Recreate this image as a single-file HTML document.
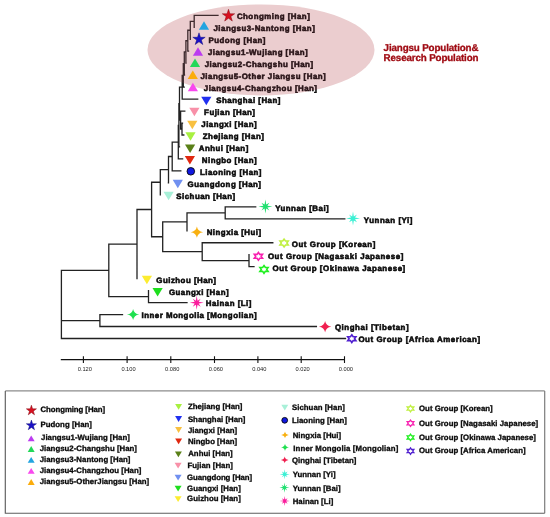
<!DOCTYPE html>
<html><head><meta charset="utf-8"><title>Phylogenetic tree</title>
<style>html,body{margin:0;padding:0;background:#fff;width:550px;height:517px;overflow:hidden}svg{display:block;filter:blur(0.3px)}</style>
</head><body>
<svg width="550" height="517" viewBox="0 0 550 517">
<rect width="550" height="517" fill="#fff"/>
<ellipse cx="261" cy="49.9" rx="113.5" ry="45.5" fill="rgb(232,203,204)"/>
<path d="M194.2 15.3V27.27M194.2 15.3H218M190.3 21.29V39.24M190.3 21.29H194.2M187.8 30.26V51.21M187.8 30.26H190.3M187.8 51.21H188.5M185.9 40.74V63.18M185.9 40.74H187.8M185.9 63.18H186M184.3 51.96V75.15M184.3 51.96H185.9M184.3 75.15H184.5M183.3 63.55V87.12M183.3 63.55H184.3M183.3 87.12H184.2M182.2 75.34V99.09M182.2 75.34H183.3M182.2 99.09H197.7M182 123.03V135M182 123.03H182.5M182 135H183.8M180.6 111.06V129.01M180.6 111.06H184.8M180.6 129.01H182M179.5 87.21V120.04M179.5 87.21H182.2M179.5 120.04H180.6M178.9 103.63V146.97M178.9 103.63H179.5M178.9 146.97H179.5M178.3 125.3V158.94M178.3 125.3H178.9M178.3 158.94H182.6M172.2 142.12V170.91M172.2 142.12H178.3M172.2 170.91H180.8M168.5 156.51V182.88M168.5 156.51H172.2M168.5 182.88H168.4M160.3 169.7V194.85M160.3 169.7H168.5M225.2 206.82V218.79M225.2 206.82H255.7M225.2 218.79H344.8M187 212.81V230.76M187 212.81H225.2M249 254.7V266.67M249 266.67H254M202.2 242.73V260.69M202.2 242.73H272.8M202.2 260.69H249M162.7 221.78V251.71M162.7 221.78H187M162.7 251.71H202.2M151.6 182.27V236.75M151.6 182.27H160.3M151.6 236.75H162.7M137 209.51V278.64M137 209.51H151.6M148.5 290.61V302.58M148.5 302.58H187M108.8 244.07V296.6M108.8 244.07H137M108.8 296.6H148.5M99.9 314.55V326.52M99.9 314.55H122.5M99.9 326.52H316.4M61.4 270.33V338.49M61.4 270.33H108.8M61.4 320.54H99.9M61.4 338.49H345.5" stroke="#222" stroke-width="1.3" fill="none" stroke-linecap="square"/>
<g font-family="Liberation Sans, Arial, sans-serif" font-weight="bold" font-size="7.9" letter-spacing="0.48" text-rendering="geometricPrecision" fill="#0a0a0a" stroke="#0a0a0a" stroke-width="0.55">
<text x="236.9" y="19.2">Chongming [Han]</text>
<text x="213.5" y="31.17">Jiangsu3-Nantong [Han]</text>
<text x="208.5" y="43.14">Pudong [Han]</text>
<text x="207.9" y="55.11">Jiangsu1-Wujiang [Han]</text>
<text x="204.7" y="67.08">Jiangsu2-Changshu [Han]</text>
<text x="200.5" y="79.05">Jiangsu5-Other Jiangsu [Han]</text>
<text x="203.8" y="91.02">Jiangsu4-Changzhou [Han]</text>
<text x="216.3" y="102.99">Shanghai [Han]</text>
<text x="204.1" y="114.96">Fujian [Han]</text>
<text x="201.3" y="126.93">Jiangxi [Han]</text>
<text x="202.8" y="138.9">Zhejiang [Han]</text>
<text x="198.8" y="150.87">Anhui [Han]</text>
<text x="201.8" y="162.84">Ningbo [Han]</text>
<text x="200" y="174.81">Liaoning [Han]</text>
<text x="187.6" y="186.78">Guangdong [Han]</text>
<text x="176.3" y="198.75">Sichuan [Han]</text>
<text x="275.2" y="210.72">Yunnan [Bai]</text>
<text x="363.8" y="222.69" letter-spacing="0.56">Yunnan [Yi]</text>
<text x="206.7" y="234.66">Ningxia [Hui]</text>
<text x="291.7" y="246.63" letter-spacing="0.56">Out Group [Korean]</text>
<text x="267.9" y="258.6" letter-spacing="0.56">Out Group [Nagasaki Japanese]</text>
<text x="272.6" y="270.57" letter-spacing="0.56">Out Group [Okinawa Japanese]</text>
<text x="156.3" y="282.54">Guizhou [Han]</text>
<text x="168.9" y="294.51">Guangxi [Han]</text>
<text x="205.8" y="306.48">Hainan [Li]</text>
<text x="141.6" y="318.45">Inner Mongolia [Mongolian]</text>
<text x="334.9" y="330.42" letter-spacing="0.56">Qinghai [Tibetan]</text>
<text x="358.4" y="342.39" letter-spacing="0.56">Out Group [Africa American]</text>
</g>
<ellipse cx="261" cy="49.9" rx="113.5" ry="45.5" fill="rgb(32,10,14)" style="mix-blend-mode:screen"/>
<polygon points="228.5,9.3 229.96,13.79 234.68,13.79 230.86,16.57 232.32,21.06 228.5,18.28 224.68,21.06 226.14,16.57 222.32,13.79 227.04,13.79" fill="#d81020" stroke="#7a0008" stroke-width="0.45" stroke-linejoin="miter"/>
<polygon points="204,21.15 198.9,29.65 209.1,29.65" fill="#22a4e0"/>
<polygon points="199,32.8 200.46,37.29 205.18,37.29 201.36,40.07 202.82,44.56 199,41.78 195.18,44.56 196.64,40.07 192.82,37.29 197.54,37.29" fill="#1a10c8" stroke="#0a0670" stroke-width="0.45" stroke-linejoin="miter"/>
<polygon points="198,47.15 192.9,55.65 203.1,55.65" fill="#bb3cf0"/>
<polygon points="195,58.55 189.9,67.05 200.1,67.05" fill="#22d858"/>
<polygon points="192.8,70.55 187.7,79.05 197.9,79.05" fill="#fbac0c"/>
<polygon points="192.9,82.85 187.8,91.35 198,91.35" fill="#f848ee"/>
<polygon points="206.3,105.15 201.2,96.65 211.4,96.65" fill="#2030f0"/>
<polygon points="194.4,116.35 189.3,107.85 199.5,107.85" fill="#f890a8"/>
<polygon points="192.3,129.35 187.2,120.85 197.4,120.85" fill="#f8c040"/>
<polygon points="190.5,140.65 185.4,132.15 195.6,132.15" fill="#a8f040"/>
<polygon points="190.1,153.05 185,144.55 195.2,144.55" fill="#5a8018"/>
<polygon points="189.9,164.45 184.8,155.95 195,155.95" fill="#e02810"/>
<circle cx="190.8" cy="171.3" r="3.8" fill="#1018e0" stroke="#000" stroke-width="0.85"/>
<polygon points="177.8,188.35 172.7,179.85 182.9,179.85" fill="#7090f0"/>
<polygon points="168.6,200.25 163.5,191.75 173.7,191.75" fill="#a8f0d8"/>
<polygon points="265.4,199.6 266.23,204.6 269.36,202.64 267.4,205.77 272.4,206.6 267.4,207.43 269.36,210.56 266.23,208.6 265.4,213.6 264.57,208.6 261.44,210.56 263.4,207.43 258.4,206.6 263.4,205.77 261.44,202.64 264.57,204.6" fill="#20e070"/>
<polygon points="353,211.4 353.83,216.4 356.96,214.44 355,217.57 360,218.4 355,219.23 356.96,222.36 353.83,220.4 353,225.4 352.17,220.4 349.04,222.36 351,219.23 346,218.4 351,217.57 349.04,214.44 352.17,216.4" fill="#3cf0d4"/>
<path d="M196.9 226.6Q197.71 231.47 203.1 232.2Q197.71 232.93 196.9 237.8Q196.09 232.93 190.7 232.2Q196.09 231.47 196.9 226.6Z" fill="#f8b010"/>
<polygon points="284.1,239.13 285.47,241.06 288.2,241.06 286.83,243 288.2,244.94 285.47,244.94 284.1,246.87 282.73,244.94 280,244.94 281.37,243 280,241.06 282.73,241.06" fill="#fff" stroke="#c0f040" stroke-width="1.6" stroke-linejoin="miter"/>
<polygon points="258.4,252.43 259.77,254.37 262.5,254.37 261.13,256.3 262.5,258.24 259.77,258.24 258.4,260.17 257.03,258.24 254.3,258.24 255.67,256.3 254.3,254.37 257.03,254.37" fill="#fff" stroke="#f820b0" stroke-width="1.6" stroke-linejoin="miter"/>
<polygon points="264,265.53 265.37,267.46 268.1,267.46 266.73,269.4 268.1,271.33 265.37,271.33 264,273.27 262.63,271.33 259.9,271.33 261.27,269.4 259.9,267.46 262.63,267.46" fill="#fff" stroke="#20f020" stroke-width="1.6" stroke-linejoin="miter"/>
<polygon points="146.9,284.25 141.8,275.75 152,275.75" fill="#fcec30"/>
<polygon points="157.6,296.45 152.5,287.95 162.7,287.95" fill="#1ede1e"/>
<polygon points="196.7,295.7 197.53,300.7 200.66,298.74 198.7,301.87 203.7,302.7 198.7,303.53 200.66,306.66 197.53,304.7 196.7,309.7 195.87,304.7 192.74,306.66 194.7,303.53 189.7,302.7 194.7,301.87 192.74,298.74 195.87,300.7" fill="#fa1c9c"/>
<path d="M133.1 308.9Q133.91 313.77 139.3 314.5Q133.91 315.23 133.1 320.1Q132.29 315.23 126.9 314.5Q132.29 313.77 133.1 308.9Z" fill="#20e050"/>
<path d="M325.1 321.1Q325.91 325.97 331.3 326.7Q325.91 327.43 325.1 332.3Q324.29 327.43 318.9 326.7Q324.29 325.97 325.1 321.1Z" fill="#f02050"/>
<polygon points="351.8,334.83 353.17,336.76 355.9,336.76 354.53,338.7 355.9,340.63 353.17,340.63 351.8,342.57 350.43,340.63 347.7,340.63 349.07,338.7 347.7,336.76 350.43,336.76" fill="#fff" stroke="#5020d0" stroke-width="1.6" stroke-linejoin="miter"/>
<g font-family="Liberation Sans, Arial, sans-serif" font-weight="bold" font-size="9.8" letter-spacing="-0.14" text-rendering="geometricPrecision" fill="#a00c14" stroke="#a00c14" stroke-width="0.3">
<text x="383.6" y="51">Jiangsu Population&amp;</text>
<text x="383.6" y="61.3">Research Population</text>
</g>
<path d="M60.8 359.6H344.5M83.4 356.2V363M127.1 356.2V363M170.8 356.2V363M214.5 356.2V363M257.9 356.2V363M301.2 356.2V363M344.5 356.2V363" stroke="#111" stroke-width="1.1" fill="none"/>
<g font-family="Liberation Sans, Arial, sans-serif" font-size="5.7" fill="#222" text-anchor="middle">
<text x="84.80000000000001" y="370.9">0.120</text>
<text x="128.5" y="370.9">0.100</text>
<text x="172.20000000000002" y="370.9">0.080</text>
<text x="215.9" y="370.9">0.060</text>
<text x="259.29999999999995" y="370.9">0.040</text>
<text x="302.59999999999997" y="370.9">0.020</text>
<text x="345.9" y="370.9">0.000</text>
</g>
<path d="M5.3 390.9H544.7" stroke="#8c8c8c" stroke-width="1.3" fill="none"/><path d="M544.7 390.9V513.2" stroke="#7c7c7c" stroke-width="1.2" fill="none"/><path d="M5.3 390.9V513.2H544.7" stroke="#5e5e5e" stroke-width="1.15" fill="none" stroke-linejoin="miter"/>
<polygon points="31.4,405.17 32.6,408.85 36.47,408.85 33.34,411.13 34.53,414.81 31.4,412.54 28.27,414.81 29.46,411.13 26.33,408.85 30.2,408.85" fill="#d81020" stroke="#7a0008" stroke-width="0.45" stroke-linejoin="miter"/>
<polygon points="31.4,420.07 32.6,423.75 36.47,423.75 33.34,426.03 34.53,429.71 31.4,427.44 28.27,429.71 29.46,426.03 26.33,423.75 30.2,423.75" fill="#1a10c8" stroke="#0a0670" stroke-width="0.45" stroke-linejoin="miter"/>
<polygon points="31.2,435.41 27.73,441.19 34.67,441.19" fill="#bb3cf0"/>
<polygon points="31.2,446.11 27.73,451.89 34.67,451.89" fill="#22d858"/>
<polygon points="31.2,456.91 27.73,462.69 34.67,462.69" fill="#22a4e0"/>
<polygon points="31.2,467.91 27.73,473.69 34.67,473.69" fill="#f848ee"/>
<polygon points="31.2,479.11 27.73,484.89 34.67,484.89" fill="#fbac0c"/>
<polygon points="178.6,409.69 175.13,403.91 182.07,403.91" fill="#a8f040"/>
<polygon points="178.6,421.89 175.13,416.11 182.07,416.11" fill="#2030f0"/>
<polygon points="178.6,432.89 175.13,427.11 182.07,427.11" fill="#f8c040"/>
<polygon points="178.6,444.29 175.13,438.51 182.07,438.51" fill="#e02810"/>
<polygon points="178.4,457.29 174.93,451.51 181.87,451.51" fill="#5a8018"/>
<polygon points="178.1,468.59 174.63,462.81 181.57,462.81" fill="#f890a8"/>
<polygon points="178.1,480.59 174.63,474.81 181.57,474.81" fill="#7090f0"/>
<polygon points="178.1,491.49 174.63,485.71 181.57,485.71" fill="#1ede1e"/>
<polygon points="178.1,501.99 174.63,496.21 181.57,496.21" fill="#fcec30"/>
<polygon points="284.8,410.49 281.33,404.71 288.27,404.71" fill="#a8f0d8"/>
<circle cx="284.7" cy="420.3" r="2.89" fill="#1018e0" stroke="#000" stroke-width="0.85"/>
<path d="M285 431.43Q285.5 434.45 288.84 434.9Q285.5 435.35 285 438.37Q284.5 435.35 281.16 434.9Q284.5 434.45 285 431.43Z" fill="#f8b010"/>
<path d="M285 443.72Q285.52 446.83 288.97 447.3Q285.52 447.77 285 450.88Q284.48 447.77 281.03 447.3Q284.48 446.83 285 443.72Z" fill="#20e050"/>
<path d="M284.7 456.43Q285.2 459.45 288.54 459.9Q285.2 460.35 284.7 463.37Q284.2 460.35 280.86 459.9Q284.2 459.45 284.7 456.43Z" fill="#f02050"/>
<polygon points="284.7,469.26 285.3,472.86 287.55,471.45 286.14,473.7 289.74,474.3 286.14,474.9 287.55,477.15 285.3,475.74 284.7,479.34 284.1,475.74 281.85,477.15 283.26,474.9 279.66,474.3 283.26,473.7 281.85,471.45 284.1,472.86" fill="#3cf0d4"/>
<polygon points="284.4,482.56 285,486.16 287.25,484.75 285.84,487 289.44,487.6 285.84,488.2 287.25,490.45 285,489.04 284.4,492.64 283.8,489.04 281.55,490.45 282.96,488.2 279.36,487.6 282.96,487 281.55,484.75 283.8,486.16" fill="#20e070"/>
<polygon points="284.7,495.96 285.3,499.56 287.55,498.15 286.14,500.4 289.74,501 286.14,501.6 287.55,503.85 285.3,502.44 284.7,506.04 284.1,502.44 281.85,503.85 283.26,501.6 279.66,501 283.26,500.4 281.85,498.15 284.1,499.56" fill="#fa1c9c"/>
<polygon points="410.5,405.43 411.62,407.01 413.86,407.01 412.74,408.6 413.86,410.19 411.62,410.19 410.5,411.77 409.38,410.19 407.14,410.19 408.26,408.6 407.14,407.01 409.38,407.01" fill="#fff" stroke="#c0f040" stroke-width="1.312" stroke-linejoin="miter"/>
<polygon points="410.5,420.03 411.62,421.61 413.86,421.61 412.74,423.2 413.86,424.79 411.62,424.79 410.5,426.37 409.38,424.79 407.14,424.79 408.26,423.2 407.14,421.61 409.38,421.61" fill="#fff" stroke="#f820b0" stroke-width="1.312" stroke-linejoin="miter"/>
<polygon points="410.5,434.23 411.62,435.81 413.86,435.81 412.74,437.4 413.86,438.99 411.62,438.99 410.5,440.57 409.38,438.99 407.14,438.99 408.26,437.4 407.14,435.81 409.38,435.81" fill="#fff" stroke="#20f020" stroke-width="1.312" stroke-linejoin="miter"/>
<polygon points="410.5,447.93 411.62,449.51 413.86,449.51 412.74,451.1 413.86,452.69 411.62,452.69 410.5,454.27 409.38,452.69 407.14,452.69 408.26,451.1 407.14,449.51 409.38,449.51" fill="#fff" stroke="#5020d0" stroke-width="1.312" stroke-linejoin="miter"/>
<g font-family="Liberation Sans, Arial, sans-serif" font-weight="bold" font-size="7.8" letter-spacing="0.03" text-rendering="geometricPrecision" fill="#0a0a0a" stroke="#0a0a0a" stroke-width="0.32">
<text x="40.5" y="412.2" letter-spacing="-0.06">Chongming [Han]</text>
<text x="40.5" y="427.2">Pudong [Han]</text>
<text x="41.1" y="440.3" letter-spacing="0">Jiangsu1-Wujiang [Han]</text>
<text x="39.7" y="451.3">Jiangsu2-Changshu [Han]</text>
<text x="39.7" y="461.8">Jiangsu3-Nantong [Han]</text>
<text x="39.7" y="472.7">Jiangsu4-Changzhou [Han]</text>
<text x="39.7" y="484.2">Jiangsu5-OtherJiangsu [Han]</text>
<text x="187.9" y="409.2">Zhejiang [Han]</text>
<text x="187.9" y="421.8">Shanghai [Han]</text>
<text x="187.9" y="432.7">Jiangxi [Han]</text>
<text x="187.9" y="443.6">Ningbo [Han]</text>
<text x="188.2" y="455.9">Anhui [Han]</text>
<text x="187.5" y="467.5">Fujian [Han]</text>
<text x="187.1" y="479.9" letter-spacing="-0.06">Guangdong [Han]</text>
<text x="187.1" y="490.8">Guangxi [Han]</text>
<text x="187.1" y="501.3">Guizhou [Han]</text>
<text x="292" y="409.8">Sichuan [Han]</text>
<text x="292" y="423.4">Liaoning [Han]</text>
<text x="292.7" y="437.5">Ningxia [Hui]</text>
<text x="293.3" y="450.6" letter-spacing="0.13">Inner Mongolia [Mongolian]</text>
<text x="292" y="462.5">Qinghai [Tibetan]</text>
<text x="292.7" y="477.3">Yunnan [Yi]</text>
<text x="292.7" y="491.1">Yunnan [Bai]</text>
<text x="292.7" y="503.6">Hainan [Li]</text>
<text x="419" y="410.8">Out Group [Korean]</text>
<text x="419" y="425.5">Out Group [Nagasaki Japanese]</text>
<text x="419" y="439.7">Out Group [Okinawa Japanese]</text>
<text x="419" y="453.1">Out Group [Africa American]</text>
</g>
</svg>
</body></html>
